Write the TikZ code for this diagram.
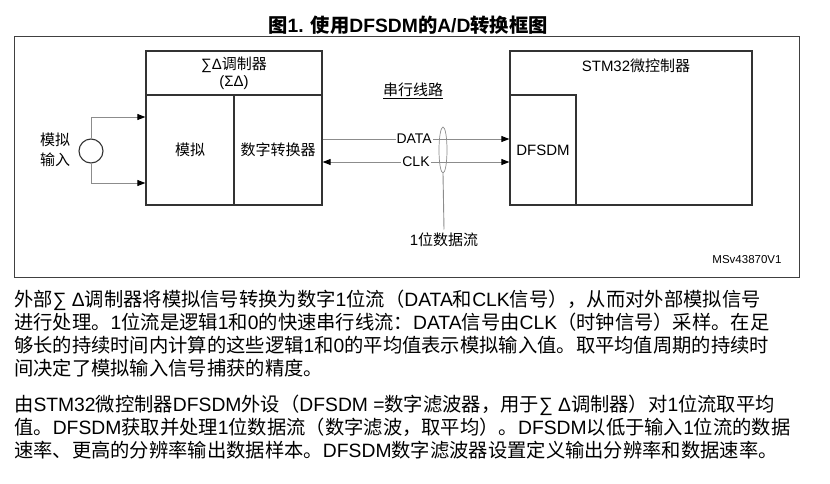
\documentclass[tikz,border=0pt]{standalone}
\usepackage{fontspec}
\setmainfont{Noto Sans CJK SC}
\newfontfamily\latf{Liberation Sans}
\newcommand\lt[1]{{\latf #1}}
\usetikzlibrary{arrows.meta, shapes.geometric}

\begin{document}
\begin{tikzpicture}[
    x=1pt, y=-1pt,
    font=\fontsize{15}{17}\selectfont,
    >={Triangle[length=8pt, width=6pt, color=black]},
    arrow/.style={->, draw=black!45, line width=0.9pt},
    wire/.style={draw=black!45, line width=0.9pt},
    box/.style={rectangle, draw=black!80, line width=1.3pt, align=center, inner sep=0pt},
    para/.style={anchor=north west, inner sep=0pt, align=left, font=\fontsize{19.3}{23}\selectfont}
]
\useasboundingbox (0,0) rectangle (830,483);
% title and frame
\node[font=\fontsize{19.3}{21}\selectfont\bfseries] (title) at (408,25) {图\lt{1. }使用\lt{DFSDM}的\lt{A/D}转换框图};
\draw[black!75, line width=0.9pt] (14,36) rectangle (799,277);
% sigma-delta modulator
\node[box, minimum width=176, minimum height=44] (sdtop) at (234,73) {\lt{∑Δ}调制器\\\lt{(ΣΔ)}};
\node[box, minimum width=88, minimum height=110] (analog) at (190,150) {模拟};
\node[box, minimum width=88, minimum height=110] (conv) at (278,150) {数字转换器};
% microcontroller
\node[box, minimum width=242, minimum height=154] (stm) at (631,128) {};
\node (stmlbl) at (636,66) {\lt{STM32}微控制器};
\node[box, minimum width=66, minimum height=110] (dfsdm) at (543,150) {\lt{DFSDM}};
% analog input
\node[circle, draw=black!80, line width=1.1pt, minimum size=24, inner sep=0pt] (ain) at (91,151) {};
\node[align=center, font=\fontsize{15}{20}\selectfont] (ainlbl) at (55,150) {模拟\\输入};
\draw[arrow] (ain.north) |- ([yshift=33pt]analog.west);
\draw[arrow] (ain.south) |- ([yshift=-33pt]analog.west);
% serial lines
\node (serial) at (413,91) {\underline{串行线路}};
\draw[arrow] ([yshift=11pt]conv.east) -- node[fill=white, inner sep=1pt, font=\fontsize{14}{16}\selectfont\latf, pos=0.49] (datalbl) {DATA} ([yshift=11pt]dfsdm.west);
\draw[arrow, <->] ([yshift=-12pt]conv.east) -- node[fill=white, inner sep=1pt, font=\fontsize{14}{16}\selectfont\latf, pos=0.5] (clklbl) {CLK} ([yshift=-12pt]dfsdm.west);
\node[ellipse, draw=black!45, line width=0.7pt, minimum width=8, minimum height=46, inner sep=0pt] (bus) at (443,150) {};
\node (buslbl) at (444,240) {\lt{1}位数据流};
\draw[wire] (bus.south) -- (buslbl.north);
\node[font=\fontsize{11.5}{13}\selectfont\latf] (ref) at (747,260) {MSv43870V1};
% text below
\node[para] (para1) at (14,290) {外部\lt{∑ Δ}调制器将模拟信号转换为数字\lt{1}位流（\lt{DATA}和\lt{CLK}信号），从而对外部模拟信号\\
进行处理。\lt{1}位流是逻辑\lt{1}和\lt{0}的快速串行线流：\lt{DATA}信号由\lt{CLK}（时钟信号）采样。在足\\
够长的持续时间内计算的这些逻辑\lt{1}和\lt{0}的平均值表示模拟输入值。取平均值周期的持续时\\
间决定了模拟输入信号捕获的精度。};
\node[para] (para2) at (14,395) {由\lt{STM32}微控制器\lt{DFSDM}外设（\lt{DFSDM =}数字滤波器，用于\lt{∑ Δ}调制器）对\lt{1}位流取平均\\
值。\lt{DFSDM}获取并处理\lt{1}位数据流（数字滤波，取平均）。\lt{DFSDM}以低于输入\lt{1}位流的数据\\
速率、更高的分辨率输出数据样本。\lt{DFSDM}数字滤波器设置定义输出分辨率和数据速率。};
\end{tikzpicture}
\end{document}
